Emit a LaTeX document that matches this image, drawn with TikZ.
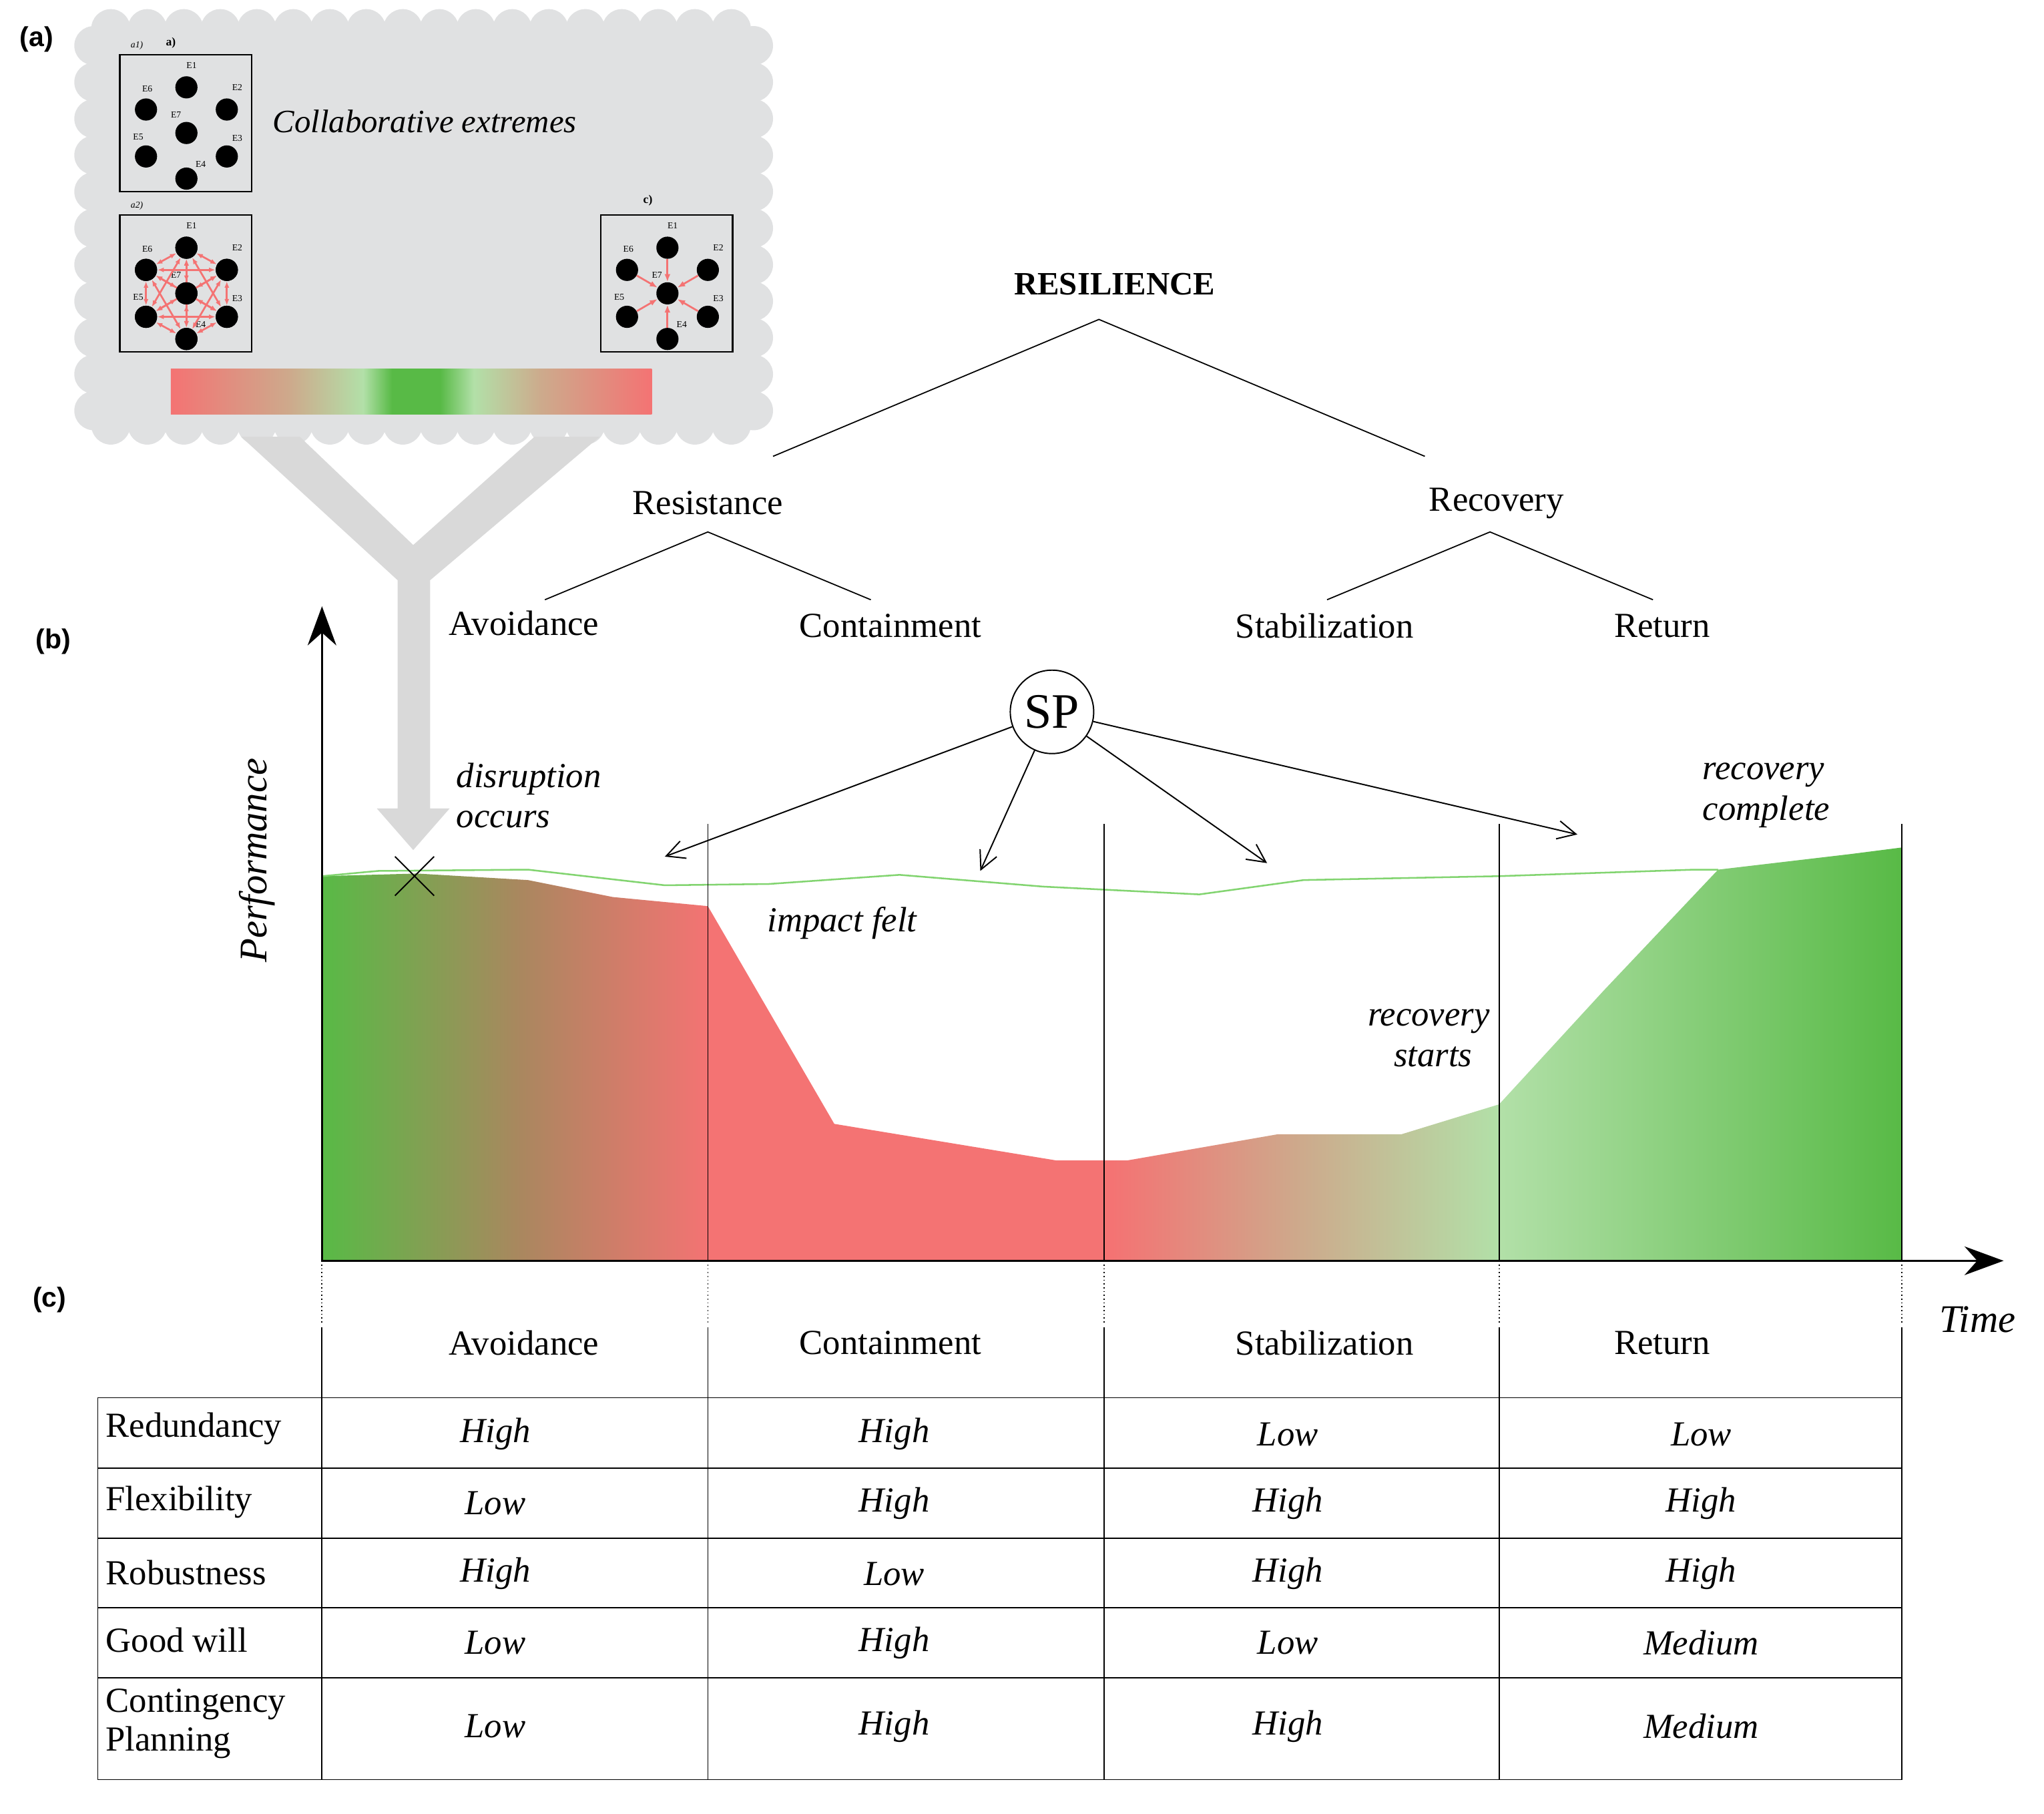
\documentclass[tikz,border=0pt]{standalone}
\usepackage{fontspec}
\setmainfont{Liberation Serif}
\newfontfamily\sfb{Liberation Sans}
\usetikzlibrary{arrows.meta}
\definecolor{pgreen}{RGB}{88,186,70}
\definecolor{pred}{RGB}{244,115,115}
\definecolor{pbrown}{RGB}{170,135,95}
\definecolor{ptan}{RGB}{205,170,140}
\definecolor{plgreen}{RGB}{178,224,168}
\definecolor{cloudgray}{RGB}{224,225,226}
\definecolor{funnel}{RGB}{217,217,217}
\definecolor{lline}{RGB}{130,212,112}
\pgfdeclarehorizontalshading{perf}{100bp}{color(0bp)=(pgreen); color(25bp)=(pgreen); color(31.3bp)=(pbrown); color(37.25bp)=(pred); color(50bp)=(pred); color(56bp)=(ptan); color(62.25bp)=(plgreen); color(75bp)=(pgreen); color(100bp)=(pgreen)}
\pgfdeclarehorizontalshading{bar}{100bp}{color(0bp)=(pred); color(25bp)=(pred); color(37.5bp)=(ptan); color(45bp)=(plgreen); color(48bp)=(pgreen); color(53bp)=(pgreen); color(56.5bp)=(plgreen); color(63.5bp)=(ptan); color(75bp)=(pred); color(100bp)=(pred)}
\tikzset{
 txt/.style={font=\fontsize{27}{30}\selectfont, inner sep=0pt},
 itx/.style={font=\fontsize{27}{31}\selectfont\itshape, inner sep=0pt, align=left},
 lab/.style={font=\fontsize{21}{24}\selectfont\sfb\bfseries, inner sep=0pt},
 tiny/.style={font=\fontsize{7}{8}\selectfont, inner sep=0pt},
 dot/.style={circle, fill=black, minimum size=17pt, inner sep=0pt},
 tline/.style={line width=0.9pt},
 sparrow/.style={line width=1pt, -{Straight Barb[length=14pt,width=14pt]}},
}
\begin{document}
\begin{tikzpicture}[x=1pt,y=-1pt]
\useasboundingbox (0,0) rectangle (1568,1391);
% cloud
\fill[cloudgray, rounded corners=20pt] (68,18) rectangle (582,330);
\foreach \x in {85,113,...,570}{\fill[cloudgray] (\x,22) circle (15); \fill[cloudgray] (\x,326) circle (15);}
\foreach \y in {35,63,...,320}{\fill[cloudgray] (72,\y) circle (15); \fill[cloudgray] (578,\y) circle (15);}
% funnel
\fill[funnel] (185,335) -- (230,335) -- (317,418) -- (410,335) -- (460,335) -- (330,445) -- (330,620) -- (345,620) -- (317,652) -- (289,620) -- (305,620) -- (305,445) -- cycle;
% network boxes
\node[tiny, font=\fontsize{7}{8}\selectfont\itshape] (ta1) at (105,35) {a1)};
\node[tiny, font=\fontsize{9}{10}\selectfont\bfseries] (ta) at (131,33) {a)};
\node[tiny, font=\fontsize{7}{8}\selectfont\itshape] (ta2) at (105,158) {a2)};
\node[tiny, font=\fontsize{9}{10}\selectfont\bfseries] (tc) at (497,154) {c)};
\foreach \bx/\by/\nm in {143/0/A, 143/123/B, 512/123/C}{
 \draw[line width=1.2pt] (\bx-51,\by+42) rectangle (\bx+50,\by+147);
 \node[dot] (\nm1) at (\bx,\by+67) {};
 \node[dot] (\nm2) at (\bx+31,\by+84) {};
 \node[dot] (\nm3) at (\bx+31,\by+120) {};
 \node[dot] (\nm4) at (\bx,\by+137) {};
 \node[dot] (\nm5) at (\bx-31,\by+120) {};
 \node[dot] (\nm6) at (\bx-31,\by+84) {};
 \node[dot] (\nm7) at (\bx,\by+102) {};
 \node[tiny] (l\nm1) at (\bx+4,\by+50) {E1};
 \node[tiny] (l\nm2) at (\bx+39,\by+67) {E2};
 \node[tiny] (l\nm3) at (\bx+39,\by+106) {E3};
 \node[tiny] (l\nm4) at (\bx+11,\by+126) {E4};
 \node[tiny] (l\nm5) at (\bx-37,\by+105) {E5};
 \node[tiny] (l\nm6) at (\bx-30,\by+68) {E6};
 \node[tiny] (l\nm7) at (\bx-8,\by+88) {E7};
}
\foreach \i/\j in {1/2,1/3,1/4,1/5,1/6,1/7,2/3,2/4,2/5,2/6,2/7,3/4,3/5,3/6,3/7,4/5,4/6,4/7,5/6,5/7,6/7}
 \draw[pred, line width=1.4pt, {Latex[length=5pt]}-{Latex[length=5pt]}] (B\i) -- (B\j);
\foreach \i in {1,...,6} \draw[pred, line width=1.4pt, -{Latex[length=6pt]}] (C\i) -- (C7);
\foreach \i in {1,...,7} \node[dot] at (B\i) {};
\node[itx, font=\fontsize{25}{28}\selectfont\itshape, anchor=west] (collab) at (209,93) {Collaborative extremes};
\shade[shading=bar] (131,283) rectangle (500,318);
% labels
\node[lab] (la) at (28,30) {(a)};
\node[lab] (lb) at (41,492) {(b)};
\node[lab] (lc) at (38,997) {(c)};
% tree
\node[txt, font=\fontsize{25}{28}\selectfont\bfseries] (res) at (855,218) {RESILIENCE};
\coordinate (rt) at (843,245);
\coordinate (rl) at (593,350); \coordinate (rr) at (1093,350);
\draw[tline] (rl) -- (rt) -- (rr);
\node[txt] (resist) at (543,386) {Resistance};
\node[txt] (recov) at (1148,386) {Recovery};
\coordinate (s1) at (543,408); \coordinate (s1l) at (418,460); \coordinate (s1r) at (668,460);
\coordinate (s2) at (1143,408); \coordinate (s2l) at (1018,460); \coordinate (s2r) at (1268,460);
\draw[tline] (s1l) -- (s1) -- (s1r);
\draw[tline] (s2l) -- (s2) -- (s2r);
\node[txt] (avo) at (402,478) {Avoidance};
\node[txt] (con) at (683,480) {Containment};
\node[txt] (sta) at (1016,480) {Stabilization};
\node[txt] (ret) at (1275,480) {Return};
% performance area
\shade[shading=perf] (247,672) -- (320,670) -- (405,675) -- (470,688) -- (543,695) -- (640,862) -- (810,890) -- (865,890) -- (980,870) -- (1075,870) -- (1150,847) -- (1230,760) -- (1318,667) -- (1420,655) -- (1459,650) -- (1459,967) -- (247,967) -- cycle;
\draw[lline, line width=1.3pt] (247,672) -- (290,668) -- (405,667) -- (510,679) -- (590,678) -- (690,671) -- (800,680) -- (920,686) -- (1000,675) -- (1150,672) -- (1300,667) -- (1318,667);
\foreach \x in {543,847,1150,1459} \draw[tline] (\x,632) -- (\x,967);
\foreach \x in {247,543,847,1150,1459} \draw[tline, dotted] (\x,967) -- (\x,1015);
\coordinate (o) at (247,967);
\coordinate (ytop) at (247,465);
\coordinate (xend) at (1537,967);
\draw[line width=1.2pt, -{Stealth[length=30pt,width=22pt]}] (o) -- (ytop);
\draw[line width=1.2pt, -{Stealth[length=30pt,width=22pt]}] (o) -- (xend);
\node[itx, font=\fontsize{30}{34}\selectfont\itshape, rotate=90] (perf) at (197,660) {Performance};
\node[itx, font=\fontsize{30}{34}\selectfont\itshape] (time) at (1517,1012) {Time};
\draw[line width=1pt] (303,657) -- (333,687) (333,657) -- (303,687);
\node[itx, anchor=north west] (dis) at (350,585) {disruption\\occurs};
\node[itx] (imp) at (646,708) {impact felt};
\node[itx, align=right, anchor=north east] (rs) at (1143,774) {recovery\\ \ \ starts\ \ \ };
\node[itx, anchor=north west] (rc) at (1306,585) {recovery\\complete};
% SP
\node[circle, draw, line width=1pt, minimum size=64pt, inner sep=0pt, font=\fontsize{38}{40}\selectfont] (sp) at (807,546) {SP};
\coordinate (a1) at (510,657); \coordinate (a2) at (752,668); \coordinate (a3) at (972,662); \coordinate (a4) at (1210,640);
\foreach \a in {a1,a2,a3,a4} \draw[sparrow] (sp) -- (\a);
% table
\foreach \x in {247,543,847,1150,1459} \draw[tline] (\x,1018) -- (\x,1365);
\draw[tline] (75,1072) -- (75,1365);
\foreach \y in {1072,1126,1180,1233,1287,1365} \draw[tline] (75,\y) -- (1459,\y);
\node[txt] (h1) at (402,1030) {Avoidance};
\node[txt] (h2) at (683,1030) {Containment};
\node[txt] (h3) at (1016,1030) {Stabilization};
\node[txt] (h4) at (1275,1030) {Return};
\node[txt, anchor=west] (r1) at (81,1096) {Redundancy};
\node[txt, anchor=west] (r2) at (81,1152) {Flexibility};
\node[txt, anchor=west] (r3) at (81,1206) {Robustness};
\node[txt, anchor=west] (r4) at (81,1258) {Good will};
\node[txt, anchor=west, align=left] (r5) at (81,1322) {Contingency\\Planning};
\foreach \y/\a/\b/\c/\d in {1100/High/High/Low/Low, 1153/Low/High/High/High, 1207/High/Low/High/High, 1260/Low/High/Low/Medium, 1324/Low/High/High/Medium}{
 \node[itx] at (380,\y) {\a};
 \node[itx] at (686,\y) {\b};
 \node[itx] at (988,\y) {\c};
 \node[itx] at (1305,\y) {\d};
}
\end{tikzpicture}
\end{document}
